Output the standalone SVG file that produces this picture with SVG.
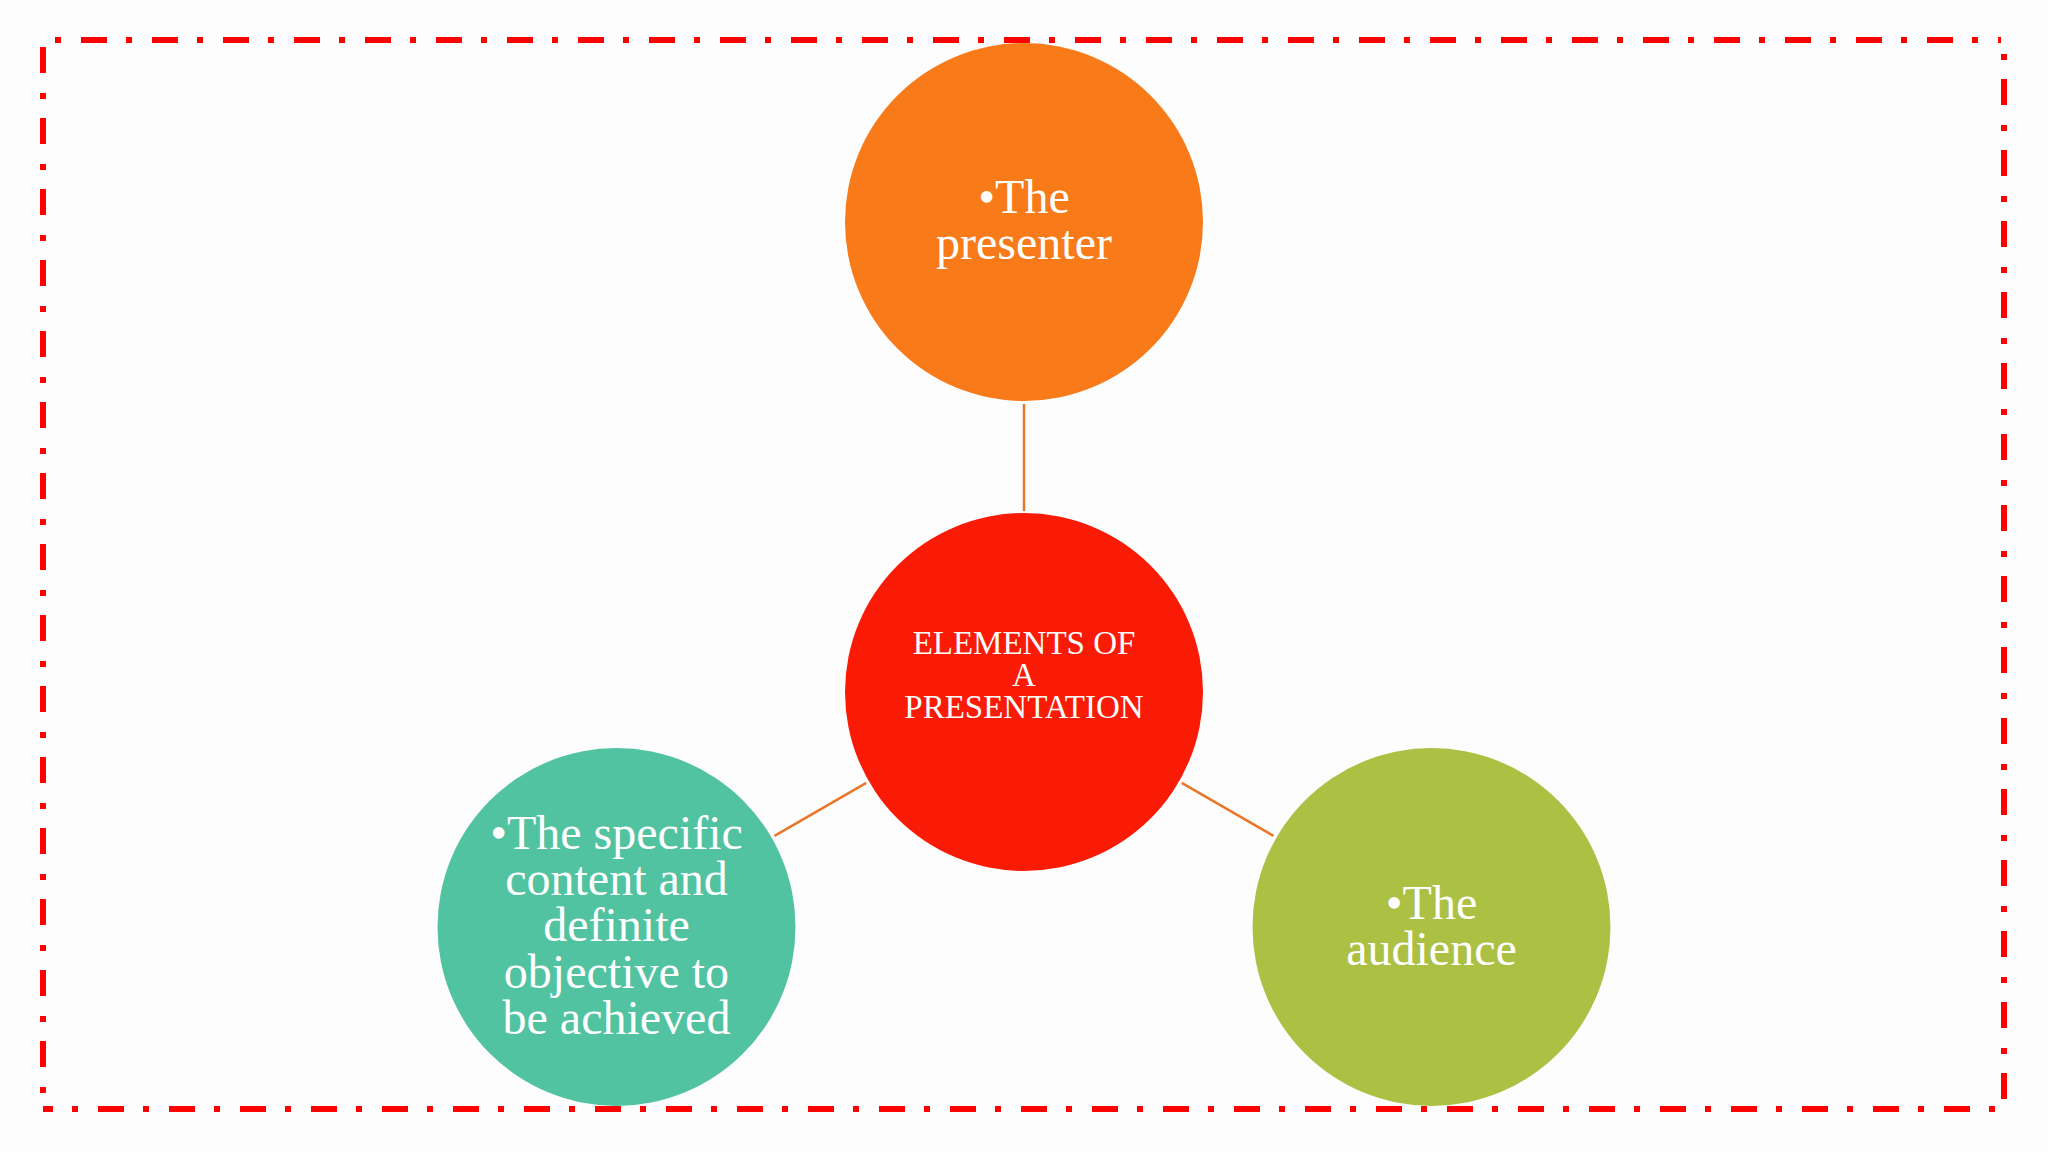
<svg xmlns="http://www.w3.org/2000/svg" width="2048" height="1152" viewBox="0 0 2048 1152">
  <style>
    .lbl { font-family: "Liberation Serif", "Times New Roman", serif; fill: #FFFFFF; text-anchor: middle; }
    .big { font-size: 48px; }
    .small { font-size: 33px; }
    .conn { stroke: #E8772A; stroke-width: 2.5; fill: none; }
    .frame { stroke: #FF0000; stroke-width: 6; fill: none; }
  </style>
  <rect x="0" y="0" width="2048" height="1152" fill="#FDFDFD"/>
  <g id="frame">
    <line class="frame" x1="55" y1="40" x2="2001" y2="40" stroke-dasharray="6 20 26 19"/>
    <line class="frame" x1="43" y1="47" x2="43" y2="1109" stroke-dasharray="26 20 6 19"/>
    <line class="frame" x1="1995" y1="1109" x2="43" y2="1109" stroke-dasharray="6 19 26 20"/>
    <line class="frame" x1="2004" y1="1099" x2="2004" y2="40" stroke-dasharray="26 19 6 20"/>
  </g>
  <g id="connectors">
    <line class="conn" x1="1024" y1="404" x2="1024" y2="511"/>
    <line class="conn" x1="866.3" y1="782.9" x2="774.5" y2="835.9"/>
    <line class="conn" x1="1181.7" y1="782.9" x2="1273.5" y2="835.9"/>
  </g>
  <g id="node-presenter">
    <circle cx="1024" cy="222" r="179" fill="#F97A19"/>
    <text class="lbl big"><tspan x="1024" y="213">•The</tspan><tspan x="1024" y="259">presenter</tspan></text>
  </g>
  <g id="node-center">
    <circle cx="1024" cy="692" r="179" fill="#F91B06"/>
    <text class="lbl small"><tspan x="1024" y="654">ELEMENTS OF</tspan><tspan x="1024" y="686">A</tspan><tspan x="1024" y="718">PRESENTATION</tspan></text>
  </g>
  <g id="node-content">
    <circle cx="616.5" cy="927" r="179" fill="#51C3A0"/>
    <text class="lbl big"><tspan x="616.5" y="849">•The specific</tspan><tspan x="616.5" y="895">content and</tspan><tspan x="616.5" y="941">definite</tspan><tspan x="616.5" y="988">objective to</tspan><tspan x="616.5" y="1034">be achieved</tspan></text>
  </g>
  <g id="node-audience">
    <circle cx="1431.5" cy="927" r="179" fill="#ACC044"/>
    <text class="lbl big"><tspan x="1431.5" y="919">•The</tspan><tspan x="1431.5" y="965">audience</tspan></text>
  </g>
</svg>
